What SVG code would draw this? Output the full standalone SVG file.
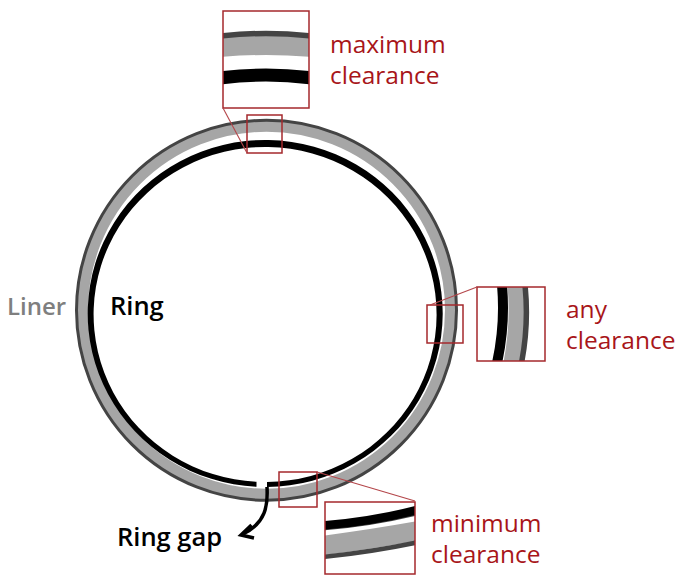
<svg xmlns="http://www.w3.org/2000/svg" width="685" height="585" viewBox="0 0 685 585">
<style>
.bg{fill:#fff}
.box{fill:none;stroke:#a5282c;stroke-width:1.5}
.lead{fill:none;stroke:#b4464a;stroke-width:1.1}
.dark{fill:none;stroke:#444;stroke-linecap:butt}
.liner{fill:none;stroke:#a6a6a6}
.ring{fill:none;stroke:#000;stroke-linecap:butt}
.red{font:24.500px "Open Sans","Noto Sans",sans-serif;fill:#a81519}
.lab{font:600 25.500px "Open Sans","Noto Sans",sans-serif}
</style>
<defs>
<clipPath id="c1"><rect x="223" y="11" width="86" height="97"/></clipPath>
<clipPath id="c2"><rect x="477" y="287" width="68" height="74"/></clipPath>
<clipPath id="c3"><rect x="325" y="502" width="90" height="72"/></clipPath>
</defs>
<rect class="bg" width="685" height="585"/>
<g id="liner">
<circle class="liner" cx="266.500" cy="310.300" r="184" stroke-width="11"/>
<circle class="dark" cx="266.500" cy="310.300" r="190" stroke-width="3"/>
</g>
<g id="ring">
<path fill="#000" d="M256.500 486.800A177.500 173.500 0 1 1 267 487L267 482A171.500 167.500 0 1 0 256.500 481.800Z"/>
</g>
<g id="inset-top">
<g clip-path="url(#c1)">
<path class="liner" d="M220 47Q266 43 312 47" stroke-width="20"/>
<path class="dark" d="M220 36Q266 31 312 36" stroke-width="5.500"/>
<path class="ring" d="M220 78Q266 72 312 78" stroke-width="13"/>
</g>
<rect class="box" x="223" y="11" width="86" height="97"/>
<rect class="box" x="247" y="115" width="35" height="38"/>
</g>
<g id="inset-right">
<g clip-path="url(#c2)">
<path class="liner" d="M515.500 285Q519 324 511.500 363" stroke-width="16"/>
<path class="dark" d="M525 285Q529 324 521.500 363" stroke-width="5.500"/>
<path class="ring" d="M502 285Q505.500 324 497 363" stroke-width="10"/>
</g>
<rect class="box" x="477" y="287" width="68" height="74"/>
<rect class="box" x="427" y="305" width="36" height="38"/>
</g>
<g id="inset-bottom">
<g clip-path="url(#c3)">
<path class="liner" d="M323 545.500Q372 539 417 531" stroke-width="19.500"/>
<path class="dark" d="M323 557Q372 552 417 542.500" stroke-width="4.500"/>
<path class="dark" d="M323 529Q372 525 417 514" stroke-width="3"/>
<path class="ring" d="M323 525.500Q372 521.500 417 510" stroke-width="8.500"/>
</g>
<rect class="box" x="325" y="502" width="90" height="72"/>
<rect class="box" x="279" y="472" width="38" height="35"/>
</g>
<g id="connectors">
<path class="lead" d="M223 108L247 153"/>
<path class="lead" d="M477 287L430 305"/>
<path class="lead" d="M317 472L415 501"/>
<path fill="none" stroke="#000" stroke-width="3.500" d="M267 487C268 505 266 523 243 534"/>
<path fill="none" stroke="#000" stroke-width="3.500" d="M251.500 525L241 535L254 538"/>
</g>
<g id="labels">
<text class="red" x="330" y="53">maximum</text>
<text class="red" x="330" y="84">clearance</text>
<text class="red" x="566" y="318">any</text>
<text class="red" x="566" y="349">clearance</text>
<text class="red" x="431" y="532">minimum</text>
<text class="red" x="431" y="563">clearance</text>
<text class="lab" x="7" y="315" fill="#7f7f7f" style="font-size:24px">Liner</text>
<text class="lab" x="110" y="315" fill="#000">Ring</text>
<text class="lab" x="117" y="546" fill="#000">Ring gap</text>
</g>
</svg>
